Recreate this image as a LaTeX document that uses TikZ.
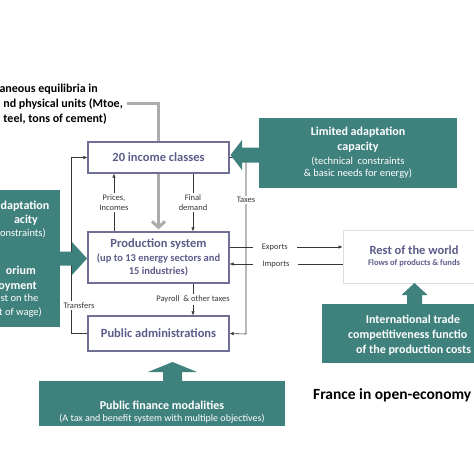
\documentclass[tikz,border=0pt]{standalone}
\usepackage{fontspec}
\setmainfont{Carlito}
\usetikzlibrary{arrows.meta,calc}
\definecolor{teal1}{RGB}{63,129,125}
\definecolor{boxtext}{RGB}{92,92,138}
\definecolor{boxline}{RGB}{112,112,150}
\definecolor{connc}{RGB}{55,55,55}
\definecolor{grayarrow}{RGB}{172,172,172}
\definecolor{rowline}{RGB}{222,222,222}
\begin{document}
\begin{tikzpicture}[x=1pt,y=-1pt,
  ecobox/.style={draw=boxline,line width=1.2pt,fill=white,minimum width=141pt,inner sep=0pt,text=boxtext,font=\bfseries\fontsize{12.5}{14}\selectfont,align=center},
  tealbox/.style={fill=teal1,text=white,inner sep=0pt,align=center},
  tealtxt/.style={text=white,inner sep=0pt},
  lbl/.style={font=\fontsize{8.5}{10}\selectfont,text=connc,fill=white,inner sep=1.5pt,align=center},
  connl/.style={draw=connc,line width=0.6pt},
  tipc/.style={-{Latex[length=4pt,width=3.5pt]}}
]
\clip (0,0) rectangle (474,474);
\fill[white] (0,0) rectangle (474,474);

% top-left cropped text
\node[anchor=base east,inner sep=0pt,font=\bfseries\fontsize{12}{14}\selectfont] (tl1) at (98,92) {aneous equilibria in};
\node[anchor=base east,inner sep=0pt,font=\bfseries\fontsize{12}{14}\selectfont] (tl2) at (123,107) {nd physical units (Mtoe,};
\node[anchor=base east,inner sep=0pt,font=\bfseries\fontsize{12}{14}\selectfont] (tl3) at (107,122) {teel, tons of cement)};

% economy boxes
\node[ecobox,minimum height=51pt] (ps) at (158.5,257.5) {Production system\\{\fontsize{10.5}{13}\selectfont (up to 13 energy sectors and}\\[-1pt]{\fontsize{10.5}{13}\selectfont 15 industries)}};
\coordinate (gstart) at (127,103);
\draw[grayarrow,line width=3pt,-{Straight Barb[length=6pt,width=13pt]}] (gstart) -| ([yshift=2pt]ps.north);
\node[ecobox,minimum height=31pt] (inc) at (158.5,157.5) {20 income classes};
\node[ecobox,minimum height=35pt] (pa) at (158.5,333.5) {Public administrations};
\node[draw=rowline,line width=0.8pt,fill=white,minimum width=142pt,minimum height=53pt,inner sep=0pt,align=center,text=boxtext] (row) at (414,256.5)
  {{\bfseries\fontsize{12.5}{14}\selectfont Rest of the world}\\[-1pt]{\bfseries\fontsize{8.5}{10}\selectfont Flows of products \& funds}};

% connectors
\draw[connl,tipc] ([xshift=-44.5pt]ps.north) -- node[lbl]{Prices,\\Incomes} ([xshift=-44.5pt]inc.south);
\draw[connl,tipc] ([xshift=34.5pt]inc.south) -- node[lbl]{Final\\demand} ([xshift=34.5pt]ps.north);
\draw[connl,tipc] ([xshift=34.5pt]ps.south) -- node[lbl]{Payroll\ \ \& other taxes} ([xshift=34.5pt]pa.north);
\coordinate (tx1) at (246,157.5);
\coordinate (tx2) at (246,334);
\draw[connl,tipc] (inc.east) -- (tx1) -- node[lbl,pos=0.24]{Taxes} (tx2) -- (pa.east);
\coordinate (tr1) at (71,333.5);
\coordinate (tr2) at (71,157.5);
\draw[connl,tipc] (pa.west) -- (tr1) -- node[lbl,pos=0.16,xshift=8pt]{Transfers} (tr2) -- (inc.west);
\draw[connl,tipc] ([yshift=10.5pt]ps.east) -- node[lbl,pos=0.4,inner xsep=9pt]{Exports} ([yshift=9.5pt]row.west);
\draw[connl,tipc] ([yshift=-7.5pt]row.west) -- node[lbl,pos=0.59,inner xsep=9pt]{Imports} ([yshift=-6.5pt]ps.east);

% teal callouts
\node[tealbox,minimum width=198pt,minimum height=70pt,font=\fontsize{12}{14}\selectfont] (lim) at (358,153)
  {\textbf{Limited adaptation}\\[1pt]\textbf{capacity}\\{\fontsize{10.5}{12}\selectfont (technical\ \ constraints}\\[-2pt]{\fontsize{10.5}{12}\selectfont \& basic needs for energy)}};
\fill[teal1] (259,147.5) -- (242,147.5) -- (242,140) -- (230.5,155) -- (242,170) -- (242,162.5) -- (259,162.5) -- cycle;

\node[tealbox,minimum width=140pt,minimum height=137pt] (lft) at (-10,258.5) {};
\fill[teal1] (59,251.5) -- (72,251.5) -- (72,242) -- (87,258.5) -- (72,275) -- (72,265.5) -- (59,265.5) -- cycle;
\node[tealtxt,anchor=base west,font=\bfseries\fontsize{12}{14}\selectfont] (l1) at (0.5,209) {daptation};
\node[tealtxt,anchor=base east,font=\bfseries\fontsize{12}{14}\selectfont] (l2) at (38,223) {acity};
\node[tealtxt,anchor=base east,font=\fontsize{10.5}{12}\selectfont] (l3) at (46,236.5) {onstraints)};
\node[tealtxt,anchor=base east,font=\bfseries\fontsize{12}{14}\selectfont] (l4) at (36,274) {orium};
\node[tealtxt,anchor=base east,font=\bfseries\fontsize{12}{14}\selectfont] (l5) at (37,289) {oyment};
\node[tealtxt,anchor=base west,font=\fontsize{10.5}{12}\selectfont] (l6) at (0.5,301.5) {st on the};
\node[tealtxt,anchor=base east,font=\fontsize{10.5}{12}\selectfont] (l7) at (42,315.5) {t of wage)};

\node[tealbox,minimum width=182pt,minimum height=59pt] (intl) at (413,333.5) {};
\fill[teal1] (407,304.5) -- (407,295) -- (401.5,295) -- (414.5,283) -- (427.5,295) -- (422,295) -- (422,304.5) -- cycle;
\node[tealtxt,anchor=base,font=\bfseries\fontsize{12}{14}\selectfont] (i1) at (413,323) {International trade};
\node[tealtxt,anchor=base west,font=\bfseries\fontsize{12}{14}\selectfont] (i2) at (348,338) {competitiveness functio};
\node[tealtxt,anchor=base west,font=\bfseries\fontsize{12}{14}\selectfont] (i3) at (356,353) {of the production costs};

\node[tealbox,minimum width=246pt,minimum height=45.5pt] (pf) at (162,403.5) {};
\fill[teal1] (163,381) -- (163,372) -- (148,372) -- (172.5,362) -- (197,372) -- (182,372) -- (182,381) -- cycle;
\node[tealtxt,align=center,font=\fontsize{12}{12}\selectfont] (pftxt) at (162,412)
  {\textbf{Public finance modalities}\\{\fontsize{10}{12}\selectfont (A tax and benefit system with multiple objectives)}};

\node[anchor=base west,inner sep=0pt,font=\bfseries\fontsize{15.5}{18}\selectfont] (fr) at (313,399) {France in open-economy};
\end{tikzpicture}
\end{document}
